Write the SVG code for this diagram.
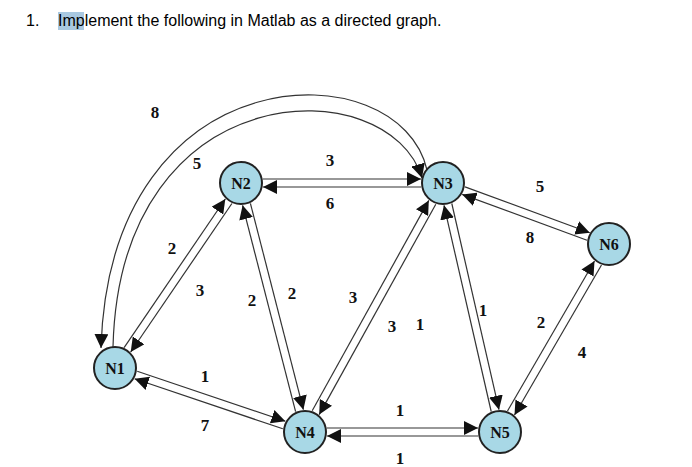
<svg xmlns="http://www.w3.org/2000/svg" width="692" height="467" viewBox="0 0 692 467">
<style>
.e{stroke:#333;stroke-width:1.2;fill:none;marker-end:url(#a)}
.n circle{fill:#a8d8e6;stroke:#222;stroke-width:2}
.n text,.l{font-family:"Liberation Serif",serif;font-weight:bold;font-size:17px;fill:#111;text-anchor:middle}
.n text{font-size:16px}
</style>
<defs><marker id="a" viewBox="0 0 10 10" refX="10" refY="5" markerWidth="14" markerHeight="14" markerUnits="userSpaceOnUse" orient="auto"><path d="M0,0L10,5L0,10z" fill="#111"/></marker></defs>
<rect width="692" height="467" fill="#fff"/>
<text x="26" y="26" font-family="Liberation Sans,sans-serif" font-size="16" fill="#000">1.</text>
<rect x="58" y="12" width="26" height="18" fill="#a9c8e0"/>
<text x="58" y="26" font-family="Liberation Sans,sans-serif" font-size="16" fill="#000">Implement the following in Matlab as a directed graph.</text>
<g id="connectors">
<path class="e" d="M427,170 C400,50 110,50 101,348"/>
<path class="e" d="M113,347 C120,70 390,70 422,178"/>
<path class="e" d="M124.1,347.6L225.3,199"/>
<path class="e" d="M231.9,203.5L130.7,352"/>
<path class="e" d="M263,179L421,179"/>
<path class="e" d="M421,187L263,187"/>
<path class="e" d="M295.6,411.7L242.6,205.3"/>
<path class="e" d="M250.4,203.3L303.4,409.7"/>
<path class="e" d="M312.2,410.8L428.8,200.4"/>
<path class="e" d="M435.8,204.2L319.2,414.6"/>
<path class="e" d="M491.2,411.5L444,205.3"/>
<path class="e" d="M451.8,203.5L499,409.7"/>
<path class="e" d="M465,186.9L589.8,232.7"/>
<path class="e" d="M587,240.2L462.2,194.4"/>
<path class="e" d="M507.5,411L594.5,261"/>
<path class="e" d="M601.5,265L514.5,415"/>
<path class="e" d="M137.2,371.2L285.4,421.2"/>
<path class="e" d="M282.8,428.8L134.6,378.8"/>
<path class="e" d="M327,428L478,428"/>
<path class="e" d="M478,436L327,436"/>
</g>
<g id="labels">
<text class="l" x="155" y="118">8</text><text class="l" x="197" y="169">5</text>
<text class="l" x="330" y="166">3</text><text class="l" x="330" y="209">6</text>
<text class="l" x="540" y="192">5</text><text class="l" x="530" y="243">8</text>
<text class="l" x="172" y="254">2</text><text class="l" x="200" y="296">3</text>
<text class="l" x="252" y="306">2</text><text class="l" x="292" y="299">2</text>
<text class="l" x="353" y="303">3</text><text class="l" x="392" y="332">3</text>
<text class="l" x="420" y="330">1</text><text class="l" x="483" y="316">1</text>
<text class="l" x="541" y="328">2</text><text class="l" x="582" y="358">4</text>
<text class="l" x="205" y="382">1</text><text class="l" x="205" y="431">7</text>
<text class="l" x="400" y="416">1</text><text class="l" x="400" y="464">1</text>
</g>
<g id="N1" class="n"><circle cx="115" cy="368" r="21"/><text x="115" y="374">N1</text></g>
<g id="N2" class="n"><circle cx="241" cy="183" r="21"/><text x="241" y="189">N2</text></g>
<g id="N3" class="n"><circle cx="443" cy="183" r="21"/><text x="443" y="189">N3</text></g>
<g id="N4" class="n"><circle cx="305" cy="432" r="21"/><text x="305" y="438">N4</text></g>
<g id="N5" class="n"><circle cx="500" cy="432" r="21"/><text x="500" y="438">N5</text></g>
<g id="N6" class="n"><circle cx="609" cy="244" r="21"/><text x="609" y="250">N6</text></g>
</svg>
